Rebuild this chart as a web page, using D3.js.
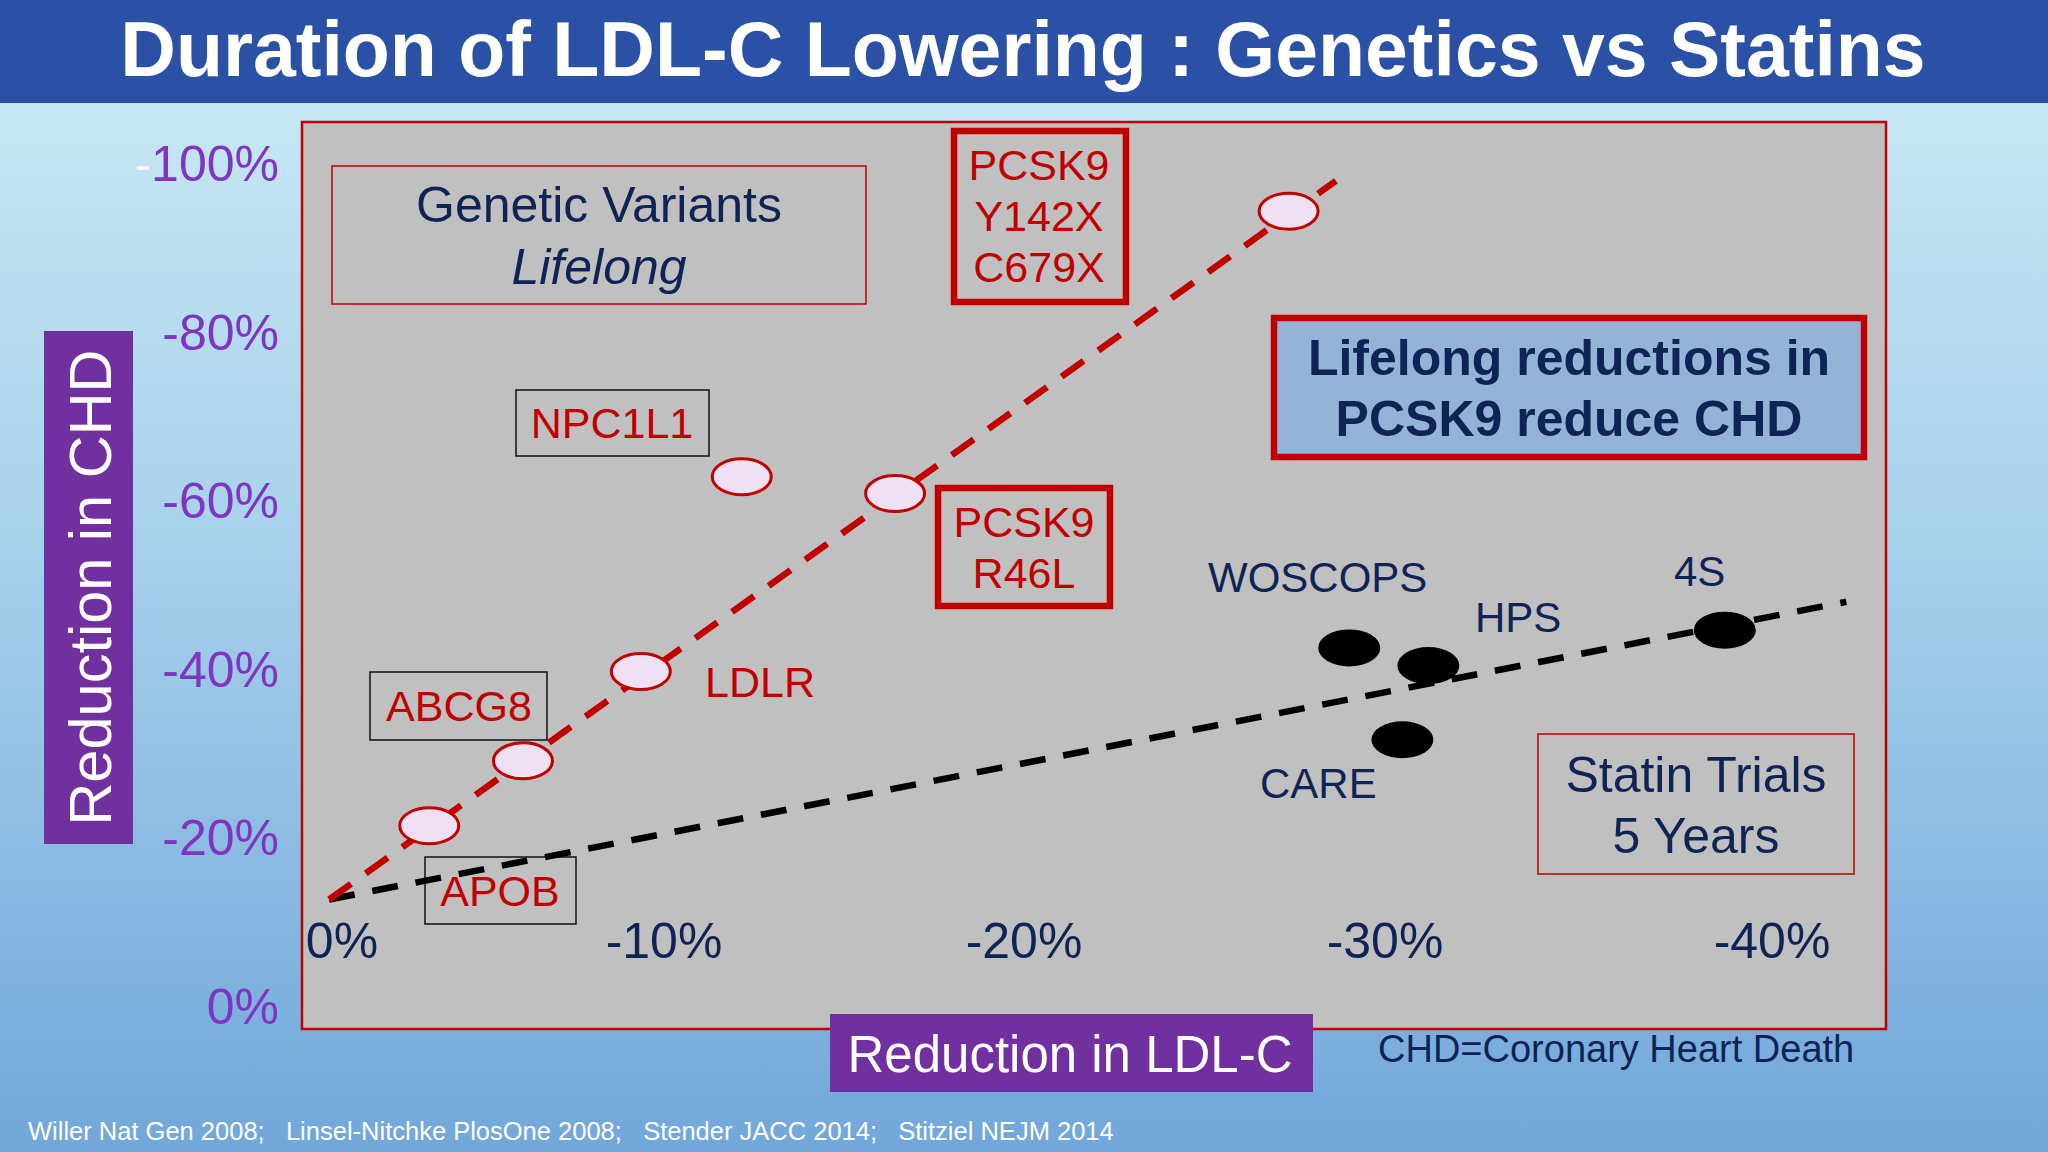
<!DOCTYPE html>
<html>
<head>
<meta charset="utf-8">
<script src="https://cdn.jsdelivr.net/npm/d3@7"></script>
<style>
  html, body { margin: 0; padding: 0; background: #fff; }
  svg { display: block; }
  text { font-family: "Liberation Sans", Arial, Helvetica, sans-serif; }
</style>
</head>
<body>
<svg id="chart" width="2048" height="1152"></svg>
<script>
// ---------------- DATA ----------------
const titleText = "Duration of LDL-C Lowering : Genetics vs Statins";
const xTickValues = [0, -10, -20, -30, -40];
const xTickLabels = ["0%", "-10%", "-20%", "-30%", "-40%"];
const yTickValues = [-100, -80, -60, -40, -20, 0];
const yTickLabels = ["-100%", "-80%", "-60%", "-40%", "-20%", "0%"];

// Genetic variants: LDL-C reduction (%), CHD reduction (%)
const geneNames = ["APOB", "ABCG8", "LDLR", "NPC1L1", "PCSK9 R46L", "PCSK9 Y142X/C679X"];
const geneLDL = [-2.71, -5.62, -9.28, -12.16, -16.42, -27.33];
const geneCHD = [-21.5, -29.2, -39.8, -62.9, -60.9, -94.4];

// Statin trials
const trialNames = ["WOSCOPS", "HPS", "4S", "CARE"];
const trialLDL = [-29.01, -31.12, -38.78, -30.45];
const trialCHD = [-42.6, -40.5, -44.7, -31.7];

// Trend lines (start / end)
const geneLineLDL = [0.40, -28.64];
const geneLineCHD = [-12.75, -98.0];
const statinLineLDL = [0.40, -41.92];
const statinLineCHD = [-12.75, -48.07];

const footnote = "Willer Nat Gen 2008;   Linsel-Nitchke PlosOne 2008;   Stender JACC 2014;   Stitziel NEJM 2014";

// ---------------- DRAWING ----------------
const W = 2048, H = 1152;
const svg = d3.select("#chart");
const NAVY = "#0F2454", RED = "#C00000", PURPLE = "#7030A0", TICKPURPLE = "#7E36C0";

// scales (slide axis labels are unevenly spaced -> piecewise linear)
const x = d3.scaleLinear().domain(xTickValues).range([342, 664, 1024, 1385, 1772]);
const y = d3.scaleLinear().domain([0, -100]).range([1007, 164]);

const defs = svg.append("defs");
const grad = defs.append("linearGradient").attr("id", "bg").attr("x1", 0).attr("y1", 0).attr("x2", 0).attr("y2", 1);
grad.append("stop").attr("offset", "0%").attr("stop-color", "#CEECF5");
grad.append("stop").attr("offset", "45%").attr("stop-color", "#A9D2EC");
grad.append("stop").attr("offset", "100%").attr("stop-color", "#72A7DA");

svg.append("rect").attr("x", 0).attr("y", 0).attr("width", W).attr("height", H).attr("fill", "url(#bg)");

// title bar
svg.append("rect").attr("x", 0).attr("y", 0).attr("width", W).attr("height", 103).attr("fill", "#2A51A5");
svg.append("text").attr("x", 1023).attr("y", 76).attr("text-anchor", "middle")
  .attr("font-size", 77).attr("font-weight", "bold").attr("fill", "#fff").text(titleText);

// plot area
svg.append("rect").attr("x", 302).attr("y", 122).attr("width", 1584).attr("height", 907)
  .attr("fill", "#C0C0C0").attr("stroke", RED).attr("stroke-width", 2.5);

// ----- annotation boxes (layout) -----
function box(x0, y0, w, h, stroke, sw, fill) {
  svg.append("rect").attr("x", x0).attr("y", y0).attr("width", w).attr("height", h)
    .attr("fill", fill || "none").attr("stroke", stroke).attr("stroke-width", sw);
}
function label(tx, ty, str, opts) {
  opts = opts || {};
  return svg.append("text").attr("x", tx).attr("y", ty)
    .attr("text-anchor", opts.anchor || "middle")
    .attr("font-size", opts.size || 42)
    .attr("font-weight", opts.weight || "normal")
    .attr("font-style", opts.style || "normal")
    .attr("fill", opts.fill || NAVY).text(str);
}

box(332, 166, 534, 138, RED, 1.5);                 // Genetic Variants
box(954, 131, 172, 171, RED, 6.5);                 // PCSK9 Y142X C679X
box(1274, 318, 590, 139, RED, 6.5, "#95B3D7");     // Lifelong reductions
box(516, 390, 193, 66, "#111", 1.5);               // NPC1L1
box(938, 488, 172, 118, RED, 6.5);                 // PCSK9 R46L
box(370, 672, 177, 68, "#111", 1.5);               // ABCG8
box(425, 857, 151, 67, "#111", 1.5);               // APOB
box(1538, 734, 316, 140, RED, 1.5);                // Statin Trials

// ----- trend lines -----
const line = d3.line().x(d => x(d[0])).y(d => y(d[1]));
svg.append("path").datum(d3.zip(statinLineLDL, statinLineCHD)).attr("d", line)
  .attr("fill", "none").attr("stroke", "#000").attr("stroke-width", 6.5).attr("stroke-dasharray", "26,18");
svg.append("path").datum(d3.zip(geneLineLDL, geneLineCHD)).attr("d", line)
  .attr("fill", "none").attr("stroke", RED).attr("stroke-width", 6.5).attr("stroke-dasharray", "27,18");

// ----- points -----
svg.selectAll("ellipse.gene").data(d3.range(geneLDL.length)).join("ellipse")
  .attr("class", "gene")
  .attr("cx", i => x(geneLDL[i])).attr("cy", i => y(geneCHD[i]))
  .attr("rx", 29.5).attr("ry", 18)
  .attr("fill", "#F0E0F4").attr("stroke", RED).attr("stroke-width", 3);

svg.selectAll("ellipse.trial").data(d3.range(trialLDL.length)).join("ellipse")
  .attr("class", "trial")
  .attr("cx", i => x(trialLDL[i])).attr("cy", i => y(trialCHD[i]))
  .attr("rx", 31).attr("ry", 18.5).attr("fill", "#000");

// ----- annotation text -----
label(599, 222, "Genetic Variants", { size: 50 });
label(599, 284, "Lifelong", { size: 50, style: "italic" });

label(1039, 180, "PCSK9", { size: 43, fill: RED });
label(1039, 231, "Y142X", { size: 43, fill: RED });
label(1039, 282, "C679X", { size: 43, fill: RED });

label(1569, 375, "Lifelong reductions in", { size: 50, weight: "bold" });
label(1569, 436, "PCSK9 reduce CHD", { size: 50, weight: "bold" });

label(612, 438, "NPC1L1", { size: 43, fill: RED });
label(1024, 537, "PCSK9", { size: 43, fill: RED });
label(1024, 588, "R46L", { size: 43, fill: RED });
label(705, 697, "LDLR", { size: 43, fill: RED, anchor: "start" });
label(459, 721, "ABCG8", { size: 43, fill: RED });
label(500, 906, "APOB", { size: 43, fill: RED });

label(1208, 592, "WOSCOPS", { size: 42, anchor: "start" });
label(1475, 632, "HPS", { size: 42, anchor: "start" });
label(1674, 586, "4S", { size: 42, anchor: "start" });
label(1260, 798, "CARE", { size: 42, anchor: "start" });

label(1696, 792, "Statin Trials", { size: 50 });
label(1696, 853, "5 Years", { size: 50 });

// ----- x tick labels -----
svg.append("g").selectAll("text").data(xTickValues).join("text")
  .attr("x", d => x(d)).attr("y", 958).attr("text-anchor", "middle")
  .attr("font-size", 50).attr("fill", NAVY)
  .text((d, i) => xTickLabels[i]);

// ----- y tick labels -----
const yt = svg.append("g").selectAll("text").data(yTickValues).join("text")
  .attr("x", 279).attr("y", d => y(d) + 17).attr("text-anchor", "end")
  .attr("font-size", 50).attr("fill", TICKPURPLE);
yt.each(function(d, i) {
  const t = d3.select(this);
  const s = yTickLabels[i];
  if (i === 0) {
    t.append("tspan").attr("fill", "#F4F8FC").text(s[0]);
    t.append("tspan").text(s.slice(1));
  } else {
    t.text(s);
  }
});

// ----- axis title boxes -----
svg.append("rect").attr("x", 44).attr("y", 331).attr("width", 89).attr("height", 513).attr("fill", PURPLE);
svg.append("text").attr("transform", "translate(111,587.5) rotate(-90)")
  .attr("text-anchor", "middle").attr("font-size", 59.5).attr("fill", "#fff").text("Reduction in CHD");

svg.append("rect").attr("x", 830).attr("y", 1014).attr("width", 483).attr("height", 78).attr("fill", PURPLE);
svg.append("text").attr("x", 1070).attr("y", 1072).attr("text-anchor", "middle")
  .attr("font-size", 51).attr("fill", "#fff").text("Reduction in LDL-C");

label(1378, 1062, "CHD=Coronary Heart Death", { size: 38, anchor: "start" });

// footnote
svg.append("text").attr("x", 28).attr("y", 1140).attr("font-size", 25.5).attr("fill", "#fff")
  .attr("xml:space", "preserve").style("white-space", "pre").text(footnote);
</script>
</body>
</html>
